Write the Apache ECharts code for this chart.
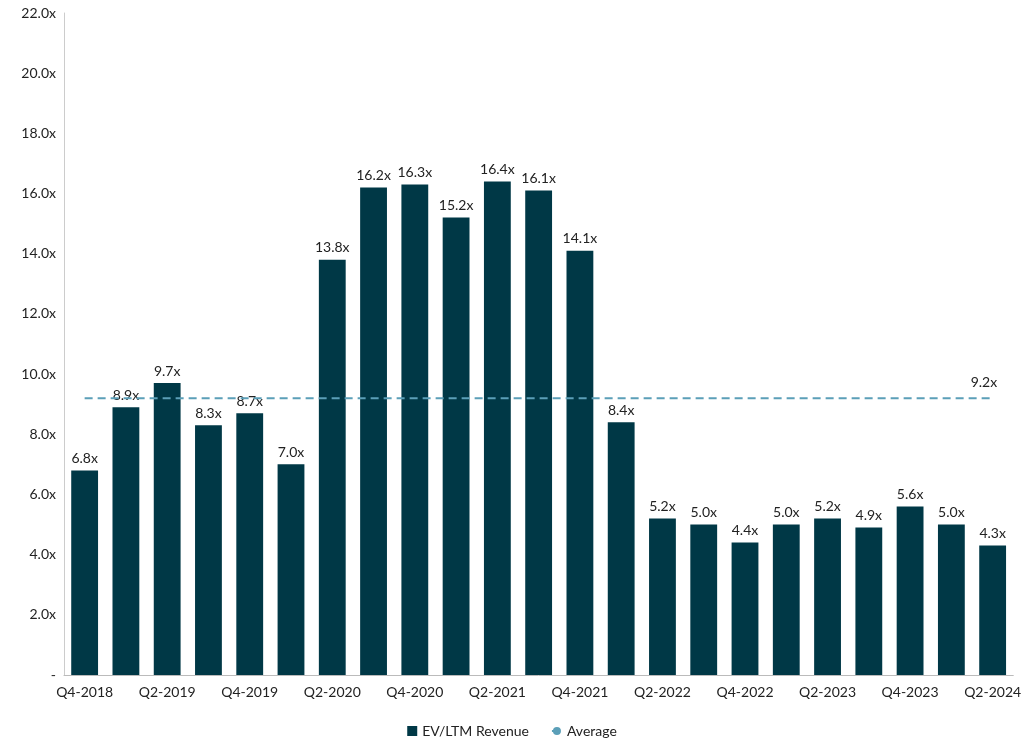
<!DOCTYPE html>
<html><head><meta charset="utf-8">
<script src="https://cdn.jsdelivr.net/npm/echarts@6/dist/echarts.min.js"></script>
<style>html,body{margin:0;background:#fff}#c{width:1024px;height:747px}</style>
</head><body><div id="c"></div>
<script>
const categories = ["Q4-2018","Q1-2019","Q2-2019","Q3-2019","Q4-2019","Q1-2020","Q2-2020","Q3-2020","Q4-2020","Q1-2021","Q2-2021","Q3-2021","Q4-2021","Q1-2022","Q2-2022","Q3-2022","Q4-2022","Q1-2023","Q2-2023","Q3-2023","Q4-2023","Q1-2024","Q2-2024"];
const evRevenue = [6.8,8.9,9.7,8.3,8.7,7.0,13.8,16.2,16.3,15.2,16.4,16.1,14.1,8.4,5.2,5.0,4.4,5.0,5.2,4.9,5.6,5.0,4.3];
const averageValue = 9.2;
const average = categories.map(() => averageValue);
const font = "Lato";
const chart = echarts.init(document.getElementById('c'));
chart.setOption({
  textStyle:{fontFamily:font},
  grid:{left:64,right:4,top:13,bottom:72},
  legend:{bottom:4,itemGap:22,textStyle:{fontSize:14,color:'#222',fontFamily:font},
    data:[{name:'EV/LTM Revenue',icon:'rect'},{name:'Average'}],itemWidth:10,itemHeight:10},
  xAxis:{type:'category',data:categories,
    axisLine:{lineStyle:{color:'#bbb'}},axisTick:{show:false},
    axisLabel:{interval:1,fontSize:14,color:'#222',margin:10}},
  yAxis:{type:'value',min:0,max:22,interval:2,
    axisLine:{show:true,lineStyle:{color:'#ccc'}},splitLine:{show:false},
    axisLabel:{fontSize:14,color:'#222',formatter:v=>v===0?'-':v.toFixed(1)+'x'}},
  series:[
    {name:'EV/LTM Revenue',type:'bar',data:evRevenue,barWidth:'65%',
     itemStyle:{color:'#003846'},
     label:{show:true,position:'top',fontSize:14,color:'#222',formatter:p=>p.value.toFixed(1)+'x'}},
    {name:'Average',type:'line',data:average,symbol:'none',
     lineStyle:{color:'#5b9fb8',type:[8,5],width:2},itemStyle:{color:'#5b9fb8'},
     endLabel:{show:true,offset:[-30,-16],fontSize:14,color:'#222',formatter:p=>p.value.toFixed(1)+'x'}}
  ]
});
</script></body></html>
